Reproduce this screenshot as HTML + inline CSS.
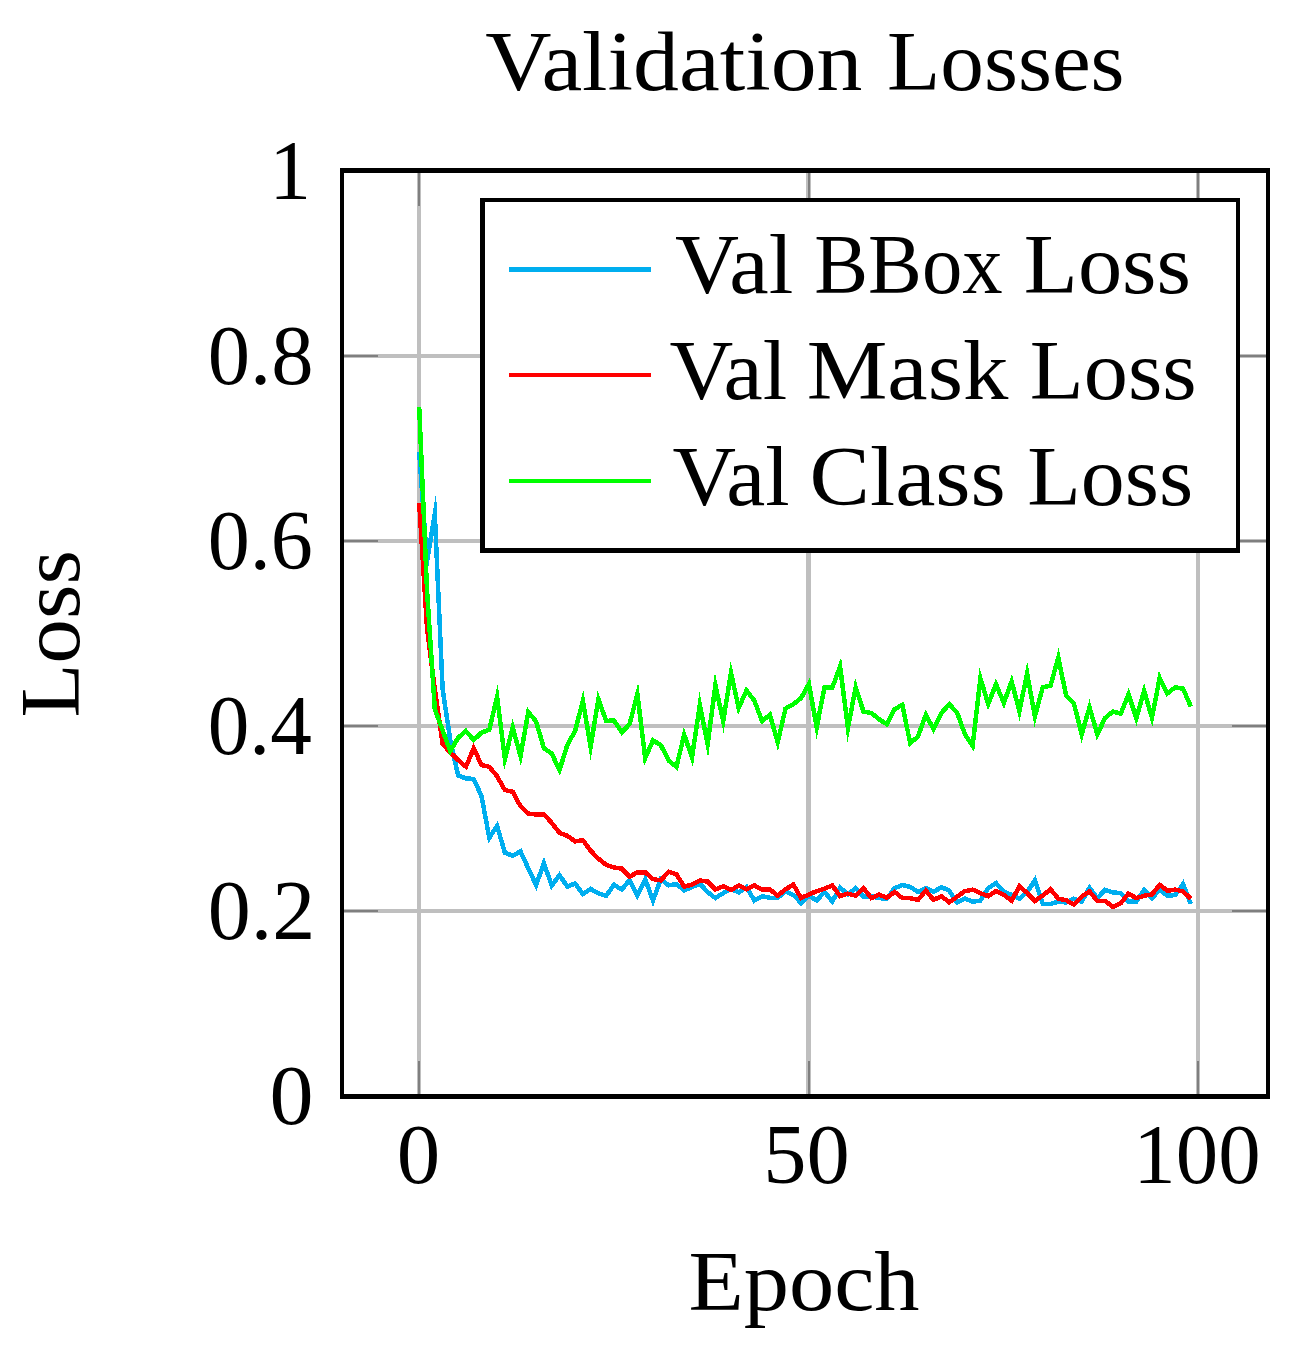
<!DOCTYPE html>
<html lang="en"><head><meta charset="utf-8"><title>Validation Losses</title>
<style>html,body{margin:0;padding:0;background:#fff}svg{display:block}text{font-family:"Liberation Serif",serif;fill:#000}</style></head><body>
<svg width="1294" height="1353" viewBox="0 0 1294 1353">
<rect x="0" y="0" width="1294" height="1353" fill="#fff"/>
<g shape-rendering="crispEdges">
<rect x="417" y="173" width="4" height="921" fill="#bfbfbf"/>
<rect x="806" y="173" width="5" height="921" fill="#bfbfbf"/>
<rect x="1196" y="173" width="4" height="921" fill="#bfbfbf"/>
<rect x="344" y="354" width="922" height="4" fill="#bfbfbf"/>
<rect x="344" y="539" width="922" height="4" fill="#bfbfbf"/>
<rect x="344" y="724" width="922" height="4" fill="#bfbfbf"/>
<rect x="344" y="909" width="922" height="4" fill="#bfbfbf"/>
<rect x="418" y="1061" width="2" height="33" fill="#7f7f7f"/>
<rect x="418" y="173" width="2" height="33" fill="#7f7f7f"/>
<rect x="808" y="1061" width="2" height="33" fill="#7f7f7f"/>
<rect x="808" y="173" width="2" height="33" fill="#7f7f7f"/>
<rect x="1197" y="1061" width="2" height="33" fill="#7f7f7f"/>
<rect x="1197" y="173" width="2" height="33" fill="#7f7f7f"/>
<rect x="344" y="355" width="34" height="2" fill="#7f7f7f"/>
<rect x="1232" y="355" width="34" height="2" fill="#7f7f7f"/>
<rect x="344" y="540" width="34" height="2" fill="#7f7f7f"/>
<rect x="1232" y="540" width="34" height="2" fill="#7f7f7f"/>
<rect x="344" y="725" width="34" height="2" fill="#7f7f7f"/>
<rect x="1232" y="725" width="34" height="2" fill="#7f7f7f"/>
<rect x="344" y="910" width="34" height="2" fill="#7f7f7f"/>
<rect x="1232" y="910" width="34" height="2" fill="#7f7f7f"/>
</g>
<clipPath id="ax"><rect x="344" y="173" width="922" height="921"/></clipPath>
<g clip-path="url(#ax)">
<polyline points="419.2,452.0 427.0,561.0 434.8,514.0 442.6,689.1 450.3,740.0 458.1,775.5 465.9,778.4 473.7,779.0 481.5,796.0 489.3,837.8 497.1,825.9 504.9,852.9 512.7,855.6 520.5,851.4 528.3,868.4 536.1,885.0 543.9,863.2 551.7,885.5 559.5,875.1 567.3,886.6 575.1,883.5 582.9,894.0 590.6,889.0 598.4,893.4 606.2,895.8 614.0,884.7 621.8,889.6 629.6,879.8 637.4,895.5 645.2,879.2 653.0,900.5 660.8,879.2 668.6,885.3 676.4,884.1 684.2,890.3 692.0,887.2 699.8,883.5 707.6,892.1 715.4,898.1 723.2,893.1 731.0,889.1 738.7,892.4 746.5,887.1 754.3,900.5 762.1,896.2 769.9,897.8 777.7,897.8 785.5,891.6 793.3,894.9 801.1,903.0 808.9,895.6 816.7,900.5 824.5,891.9 832.3,901.5 840.1,887.5 847.9,894.4 855.7,888.1 863.5,896.8 871.3,896.1 879.0,898.1 886.8,898.6 894.6,888.1 902.4,885.0 910.2,886.9 918.0,891.9 925.8,888.1 933.6,891.9 941.4,887.1 949.2,890.6 957.0,902.3 964.8,898.6 972.6,901.7 980.4,900.5 988.2,888.1 996.0,883.1 1003.8,891.9 1011.6,894.7 1019.4,898.7 1027.1,892.1 1034.9,880.4 1042.7,903.9 1050.5,903.9 1058.3,901.7 1066.1,902.4 1073.9,898.7 1081.7,901.7 1089.5,887.7 1097.3,898.1 1105.1,889.9 1112.9,892.6 1120.7,892.9 1128.5,901.7 1136.3,901.7 1144.1,889.9 1151.9,898.1 1159.7,889.9 1167.4,895.8 1175.2,895.1 1183.0,884.1 1190.8,903.9" fill="none" stroke="#00aeef" stroke-width="4.5" stroke-linejoin="miter" stroke-miterlimit="10" shape-rendering="crispEdges"/>
<polyline points="419.2,502.9 427.0,627.9 434.8,689.3 442.6,743.7 450.3,752.6 458.1,760.0 465.9,766.7 473.7,748.3 481.5,765.0 489.3,766.8 497.1,776.3 504.9,790.0 512.7,791.8 520.5,806.3 528.3,813.5 536.1,814.6 543.9,814.2 551.7,822.9 559.5,832.8 567.3,835.8 575.1,841.4 582.9,840.2 590.6,850.7 598.4,858.7 606.2,864.9 614.0,867.4 621.8,868.6 629.6,876.7 637.4,872.3 645.2,872.3 653.0,879.1 660.8,880.4 668.6,871.7 676.4,874.2 684.2,886.6 692.0,884.7 699.8,880.4 707.6,881.6 715.4,889.5 723.2,886.3 731.0,890.0 738.7,885.6 746.5,889.4 754.3,885.4 762.1,889.4 769.9,889.4 777.7,895.6 785.5,889.4 793.3,884.5 801.1,898.1 808.9,894.4 816.7,891.2 824.5,888.8 832.3,885.4 840.1,896.2 847.9,893.7 855.7,895.6 863.5,888.0 871.3,898.1 879.0,894.5 886.8,897.8 894.6,891.9 902.4,898.1 910.2,898.2 918.0,899.9 925.8,890.6 933.6,899.9 941.4,896.2 949.2,902.3 957.0,896.8 964.8,891.2 972.6,889.6 980.4,893.1 988.2,896.2 996.0,891.2 1003.8,894.9 1011.6,900.7 1019.4,886.3 1027.1,892.9 1034.9,900.9 1042.7,895.6 1050.5,889.3 1058.3,898.7 1066.1,900.2 1073.9,904.6 1081.7,896.5 1089.5,891.4 1097.3,900.9 1105.1,900.9 1112.9,906.9 1120.7,903.2 1128.5,893.6 1136.3,898.1 1144.1,895.8 1151.9,894.4 1159.7,884.8 1167.4,890.7 1175.2,889.6 1183.0,891.4 1190.8,898.7" fill="none" stroke="#ff0000" stroke-width="4.5" stroke-linejoin="miter" stroke-miterlimit="10" shape-rendering="crispEdges"/>
<polyline points="419.2,406.9 427.0,590.0 434.8,709.0 442.6,730.4 450.3,751.1 458.1,737.8 465.9,731.1 473.7,740.0 481.5,732.6 489.3,729.8 497.1,696.7 504.9,758.7 512.7,727.4 520.5,756.2 528.3,711.9 536.1,721.5 543.9,748.3 551.7,753.5 559.5,770.1 567.3,745.1 575.1,730.9 582.9,700.7 590.6,746.5 598.4,699.2 606.2,721.0 614.0,720.4 621.8,732.1 629.6,724.2 637.4,694.1 645.2,758.0 653.0,740.4 660.8,745.1 668.6,760.5 676.4,766.8 684.2,734.8 692.0,757.4 699.8,705.1 707.6,744.4 715.4,685.3 723.2,721.0 731.0,672.9 738.7,708.0 746.5,690.4 754.3,700.6 762.1,721.0 769.9,714.8 777.7,742.4 785.5,708.6 793.3,704.3 801.1,698.1 808.9,683.9 816.7,727.2 824.5,687.6 832.3,687.6 840.1,666.4 847.9,728.0 855.7,687.2 863.5,711.7 871.3,713.0 879.0,719.2 886.8,724.3 894.6,709.2 902.4,704.9 910.2,743.2 918.0,736.5 925.8,714.8 933.6,729.2 941.4,713.0 949.2,704.3 957.0,712.3 964.8,734.0 972.6,745.9 980.4,678.4 988.2,703.9 996.0,684.2 1003.8,702.9 1011.6,681.4 1019.4,711.2 1027.1,673.3 1034.9,716.4 1042.7,687.3 1050.5,685.8 1058.3,657.6 1066.1,695.4 1073.9,703.4 1081.7,734.3 1089.5,707.4 1097.3,734.2 1105.1,718.1 1112.9,711.5 1120.7,713.7 1128.5,694.3 1136.3,718.1 1144.1,690.8 1151.9,717.5 1159.7,677.9 1167.4,693.4 1175.2,687.3 1183.0,688.7 1190.8,706.4" fill="none" stroke="#00ff00" stroke-width="4.5" stroke-linejoin="miter" stroke-miterlimit="10" shape-rendering="crispEdges"/>
</g>
<g shape-rendering="crispEdges">
<rect x="340" y="168" width="930" height="5" fill="#000"/>
<rect x="340" y="1094" width="930" height="5" fill="#000"/>
<rect x="340" y="168" width="4" height="931" fill="#000"/>
<rect x="1266" y="168" width="4" height="931" fill="#000"/>
<rect x="480" y="198" width="760" height="355" fill="#000"/>
<rect x="485" y="202" width="751" height="346" fill="#fff"/>
<rect x="509" y="267" width="142" height="5" fill="#00aeef"/>
<rect x="509" y="373" width="142" height="4" fill="#ff0000"/>
<rect x="509" y="479" width="142" height="4" fill="#00ff00"/>
</g>
<text transform="translate(485.28,90.00) scale(1.0849,1)" font-size="84.6">Validation</text>
<text transform="translate(887.08,90.00) scale(1.0313,1)" font-size="84.6">Losses</text>
<text transform="translate(688.59,1310.30) scale(1.0690,1)" font-size="84.6">Epoch</text>
<text transform="translate(79.00,717.56) rotate(-90) scale(1.0483,1)" font-size="84.6">Loss</text>
<text transform="translate(675.11,292.80) scale(1.0484,1)" font-size="84.6">Val</text>
<text transform="translate(814.28,292.80) scale(0.9540,1)" font-size="84.6">BBox</text>
<text transform="translate(1023.85,292.80) scale(1.0457,1)" font-size="84.6">Loss</text>
<text transform="translate(669.62,399.30) scale(1.0439,1)" font-size="84.6">Val</text>
<text transform="translate(806.68,399.30) scale(1.0725,1)" font-size="84.6">Mask</text>
<text transform="translate(1029.75,399.30) scale(1.0450,1)" font-size="84.6">Loss</text>
<text transform="translate(672.42,505.30) scale(1.0402,1)" font-size="84.6">Val</text>
<text transform="translate(809.58,505.30) scale(1.0706,1)" font-size="84.6">Class</text>
<text transform="translate(1027.16,505.30) scale(1.0392,1)" font-size="84.6">Loss</text>
<text transform="translate(396.81,1183.20) scale(1.0206,1)" font-size="85.2">0</text>
<text transform="translate(763.30,1183.20) scale(1.0149,1)" font-size="85.2">50</text>
<text transform="translate(1133.34,1183.20) scale(0.9967,1)" font-size="85.2">100</text>
<text transform="translate(269.16,198.90) scale(0.9799,1)" font-size="85.2">1</text>
<text transform="translate(207.70,383.70) scale(0.9935,1)" font-size="85.2">0.8</text>
<text transform="translate(207.71,569.00) scale(0.9879,1)" font-size="85.2">0.6</text>
<text transform="translate(207.75,754.20) scale(0.9769,1)" font-size="85.2">0.4</text>
<text transform="translate(207.64,938.90) scale(1.0107,1)" font-size="85.2">0.2</text>
<text transform="translate(269.57,1124.30) scale(1.0343,1)" font-size="85.2">0</text>
</svg></body></html>
